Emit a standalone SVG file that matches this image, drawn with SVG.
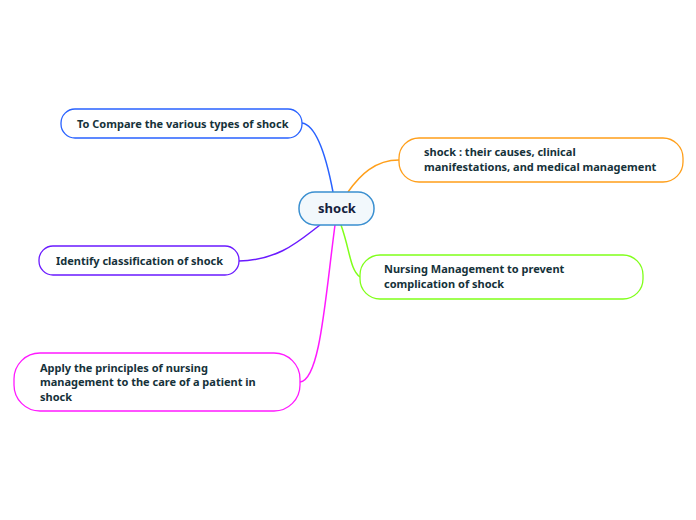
<svg xmlns="http://www.w3.org/2000/svg" width="696" height="520" viewBox="0 0 696 520">
<style>
.t{font-family:"Noto Sans","Open Sans",sans-serif;font-size:11px;font-weight:bold;fill:#16323a}
.c{fill:none;stroke-width:1.5}
.n{fill:#fff;stroke-width:1.3}
</style>
<rect width="696" height="520" fill="#fff"/>
<g id="connectors">
<path class="c" stroke="#2962ff" d="M333,192 C325,150 315,125 302,123"/>
<path class="c" stroke="#ff9f1a" d="M348,192 C360,175 375,160 399,160"/>
<path class="c" stroke="#6a1aff" d="M320,225 C300,240 280,260 239,261"/>
<path class="c" stroke="#80ff1a" d="M341,225 C350,250 350,270 360,277"/>
<path class="c" stroke="#ff1aff" d="M335,225 C325,300 320,380 300,382"/>
</g>
<g id="center"><rect x="299" y="192" width="75" height="33" rx="16" fill="#f2f8fc" stroke="#3a8fd0" stroke-width="1.5"/><text x="337" y="213" text-anchor="middle" style="font-family:'Noto Sans',sans-serif;font-size:13px;font-weight:bold;fill:#14213d">shock</text></g>
<g id="n1"><rect class="n" x="61" y="109" width="241" height="29" rx="14" stroke="#2962ff"/><text class="t" x="77" y="128">To Compare the various types of shock</text></g>
<g id="n2"><rect class="n" x="399" y="138" width="284" height="44" rx="20" stroke="#ff9f1a"/><text class="t" x="424" y="156">shock  : their causes, clinical</text><text class="t" x="424" y="171">manifestations, and medical management</text></g>
<g id="n3"><rect class="n" x="39" y="246" width="200" height="29" rx="14" stroke="#6a1aff"/><text class="t" x="56" y="265">Identify  classification of shock</text></g>
<g id="n4"><rect class="n" x="360" y="255" width="283" height="44" rx="20" stroke="#80ff1a"/><text class="t" x="384" y="273">Nursing Management  to prevent</text><text class="t" x="384" y="288">complication of shock</text></g>
<g id="n5"><rect class="n" x="14" y="353" width="286" height="58" rx="26" stroke="#ff1aff"/><text class="t" x="40" y="372">Apply the principles of nursing</text><text class="t" x="40" y="386">management to the care of a patient in</text><text class="t" x="40" y="401">shock</text></g>
</svg>
